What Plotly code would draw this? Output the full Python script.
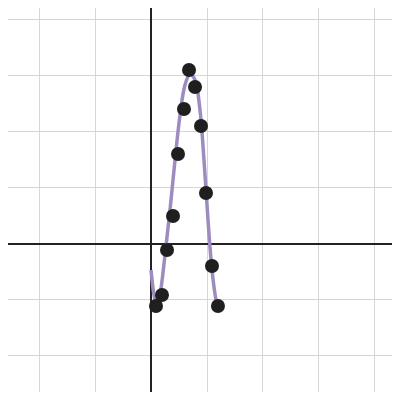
import plotly.graph_objects as go

# data points (graph units)
pt_x = [0.089, 0.196, 0.286, 0.393, 0.482, 0.589, 0.679, 0.786, 0.893, 0.982, 1.089, 1.196]
pt_y = [-1.107, -0.911, -0.107, 0.5, 1.607, 2.411, 3.107, 2.804, 2.107, 0.911, -0.393, -1.107]

# fitted curve
curve_x = [0.0, 0.054, 0.107, 0.161, 0.25, 0.339, 0.429, 0.518, 0.607, 0.696, 0.786, 0.875, 0.946, 1.018, 1.089, 1.161, 1.196]
curve_y = [-0.464, -0.911, -1.125, -0.911, -0.196, 0.607, 1.5, 2.304, 2.839, 3.036, 2.929, 2.393, 1.5, 0.429, -0.464, -1.0, -1.143]

fig = go.Figure()
fig.add_trace(go.Scatter(x=curve_x, y=curve_y, mode="lines", line=dict(color="#9d8cbf", width=3.5, shape="spline"), hoverinfo="skip"))
fig.add_trace(go.Scatter(x=pt_x, y=pt_y, mode="markers", marker=dict(color="#1f1f1f", size=14)))

axis = dict(dtick=1, showgrid=True, gridcolor="#d6d6d6", gridwidth=1, zeroline=True, zerolinecolor="#222",
            zerolinewidth=1.5, showticklabels=False, ticks="")
fig.update_xaxes(range=[-2.554, 4.304], **axis)
fig.update_yaxes(range=[-2.643, 4.214], **axis)
fig.update_layout(width=384, height=384, margin=dict(l=0, r=0, t=0, b=0), showlegend=False,
                  plot_bgcolor="white", paper_bgcolor="white")
fig.write_html("out.html")
